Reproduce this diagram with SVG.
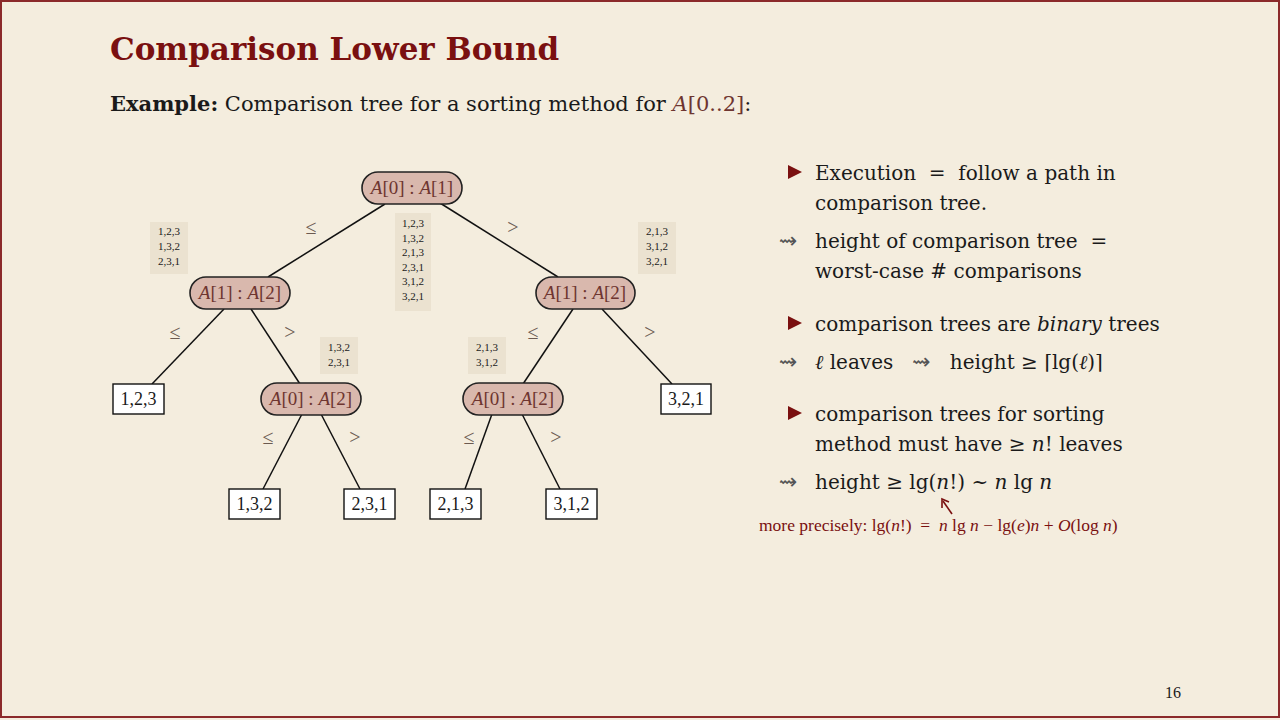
<svg xmlns="http://www.w3.org/2000/svg" width="1280" height="720" viewBox="0 0 1280 720">
<style>
text{font-family:"Liberation Serif",serif;fill:#1a1a1a}
.inner{fill:#d9b8ad;stroke:#222;stroke-width:1.6}
.nt{font-size:19px;fill:#6e3530;font-style:italic;text-anchor:middle}
.leaf{fill:#fff;stroke:#111;stroke-width:1.4}
.lt{font-size:18px;text-anchor:middle}
.e{stroke:#111;stroke-width:1.5}
.lab{font-size:20px;fill:#6b5a50;text-anchor:middle}
.setbg{fill:#ebe2d0}
.st{font-size:11px;text-anchor:middle}
.b{font-size:20px;font-family:"DejaVu Serif",serif;white-space:pre}
.sq{font-size:22px;fill:#555;font-family:"DejaVu Sans",sans-serif}
.m{fill:#6e3530}
.pre{white-space:pre}
</style>
<rect width="1280" height="720" fill="#f4edde"/>
<rect x="1" y="1" width="1278" height="716" fill="none" stroke="#8b2a2a" stroke-width="2"/>
<text x="110" y="60" font-size="31" font-weight="bold" style="fill:#7a1010;font-family:'DejaVu Serif',serif">Comparison Lower Bound</text>
<text x="110" y="111" font-size="21" style="font-family:'DejaVu Serif',serif"><tspan font-weight="bold">Example:</tspan> Comparison tree for a sorting method for <tspan class="m" font-style="italic">A</tspan><tspan class="m">[0..2]</tspan>:</text>
<g id="sets">
<rect class="setbg" x="150" y="222" width="38" height="52"/>
<text class="st" x="169" y="235">1,2,3</text><text class="st" x="169" y="250">1,3,2</text><text class="st" x="169" y="265">2,3,1</text>
<rect class="setbg" x="395" y="213" width="36" height="98"/>
<text class="st" x="413" y="227">1,2,3</text><text class="st" x="413" y="242">1,3,2</text><text class="st" x="413" y="256">2,1,3</text><text class="st" x="413" y="271">2,3,1</text><text class="st" x="413" y="285">3,1,2</text><text class="st" x="413" y="300">3,2,1</text>
<rect class="setbg" x="638" y="222" width="38" height="52"/>
<text class="st" x="657" y="235">2,1,3</text><text class="st" x="657" y="250">3,1,2</text><text class="st" x="657" y="265">3,2,1</text>
<rect class="setbg" x="320" y="337" width="38" height="37"/>
<text class="st" x="339" y="351">1,3,2</text><text class="st" x="339" y="366">2,3,1</text>
<rect class="setbg" x="468" y="337" width="38" height="37"/>
<text class="st" x="487" y="351">2,1,3</text><text class="st" x="487" y="366">3,1,2</text>
</g>
<g id="connectors">
<line class="e" x1="385" y1="204" x2="268" y2="277"/>
<line class="e" x1="440" y1="203" x2="558" y2="277"/>
<line class="e" x1="224" y1="309" x2="152" y2="384"/>
<line class="e" x1="251" y1="309" x2="300" y2="384"/>
<line class="e" x1="573" y1="309" x2="523" y2="384"/>
<line class="e" x1="602" y1="309" x2="672" y2="384"/>
<line class="e" x1="302" y1="414" x2="263" y2="489"/>
<line class="e" x1="321" y1="414" x2="360" y2="489"/>
<line class="e" x1="492" y1="414" x2="465" y2="489"/>
<line class="e" x1="522" y1="414" x2="560" y2="489"/>
<text class="lab" x="311" y="234">≤</text><text class="lab" x="513" y="234">&gt;</text>
<text class="lab" x="175" y="339">≤</text><text class="lab" x="290" y="339">&gt;</text>
<text class="lab" x="533" y="339">≤</text><text class="lab" x="650" y="339">&gt;</text>
<text class="lab" x="268" y="444">≤</text><text class="lab" x="355" y="444">&gt;</text>
<text class="lab" x="469" y="444">≤</text><text class="lab" x="556" y="444">&gt;</text>
</g>
<g id="n_root"><rect class="inner" x="362" y="172" width="100" height="32" rx="16"/><text class="nt" x="412" y="194">A<tspan font-style="normal">[0] : </tspan>A<tspan font-style="normal">[1]</tspan></text></g>
<g id="n_l"><rect class="inner" x="190" y="277" width="100" height="32" rx="16"/><text class="nt" x="240" y="299">A<tspan font-style="normal">[1] : </tspan>A<tspan font-style="normal">[2]</tspan></text></g>
<g id="n_r"><rect class="inner" x="536" y="277" width="99" height="32" rx="16"/><text class="nt" x="585" y="299">A<tspan font-style="normal">[1] : </tspan>A<tspan font-style="normal">[2]</tspan></text></g>
<g id="n_lr"><rect class="inner" x="261" y="383" width="100" height="32" rx="16"/><text class="nt" x="311" y="405">A<tspan font-style="normal">[0] : </tspan>A<tspan font-style="normal">[2]</tspan></text></g>
<g id="n_rl"><rect class="inner" x="463" y="383" width="100" height="32" rx="16"/><text class="nt" x="513" y="405">A<tspan font-style="normal">[0] : </tspan>A<tspan font-style="normal">[2]</tspan></text></g>
<g id="leaf123"><rect class="leaf" x="113" y="384" width="51" height="30"/><text class="lt" x="138.5" y="405">1,2,3</text></g>
<g id="leaf321"><rect class="leaf" x="661" y="384" width="50" height="30"/><text class="lt" x="686" y="405">3,2,1</text></g>
<g id="leaf132"><rect class="leaf" x="229" y="489" width="51" height="30"/><text class="lt" x="254.5" y="510">1,3,2</text></g>
<g id="leaf231"><rect class="leaf" x="344" y="489" width="51" height="30"/><text class="lt" x="369.5" y="510">2,3,1</text></g>
<g id="leaf213"><rect class="leaf" x="430" y="489" width="51" height="30"/><text class="lt" x="455.5" y="510">2,1,3</text></g>
<g id="leaf312"><rect class="leaf" x="546" y="489" width="51" height="30"/><text class="lt" x="571.5" y="510">3,1,2</text></g>
<g id="bullets">
<polygon points="788,165 802,172 788,179" fill="#7a1010"/>
<text class="b" x="815" y="180">Execution  =  follow a path in</text>
<text class="b" x="815" y="210">comparison tree.</text>
<text class="sq" x="779" y="248">⇝</text>
<text class="b" x="815" y="248">height of comparison tree  =</text>
<text class="b" x="815" y="278">worst-case # comparisons</text>
<polygon points="788,316 802,323 788,330" fill="#7a1010"/>
<text class="b" x="815" y="331">comparison trees are <tspan font-style="italic">binary</tspan> trees</text>
<text class="sq" x="779" y="369">⇝</text>
<text class="b" x="815" y="369"><tspan font-style="italic">ℓ</tspan> leaves   <tspan class="sq">⇝</tspan>   height ≥ ⌈lg(<tspan font-style="italic">ℓ</tspan>)⌉</text>
<polygon points="788,406 802,413 788,420" fill="#7a1010"/>
<text class="b" x="815" y="421">comparison trees for sorting</text>
<text class="b" x="815" y="451">method must have ≥ <tspan font-style="italic">n</tspan>! leaves</text>
<text class="sq" x="779" y="489">⇝</text>
<text class="b" x="815" y="489">height ≥ lg(<tspan font-style="italic">n</tspan>!) ~ <tspan font-style="italic">n</tspan> lg <tspan font-style="italic">n</tspan></text>
<line x1="952" y1="514" x2="943" y2="501" stroke="#7a1010" stroke-width="1.6"/>
<polyline points="942,508 942,499 949,502" fill="none" stroke="#7a1010" stroke-width="1.6"/>
<text class="pre" x="759" y="531" font-size="17.5" style="fill:#7a1010">more precisely: lg(<tspan font-style="italic">n</tspan>!)  =  <tspan font-style="italic">n</tspan> lg <tspan font-style="italic">n</tspan> − lg(<tspan font-style="italic">e</tspan>)<tspan font-style="italic">n</tspan> + <tspan font-style="italic">O</tspan>(log <tspan font-style="italic">n</tspan>)</text>
</g>
<text x="1165" y="698" font-size="16">16</text>
</svg>
